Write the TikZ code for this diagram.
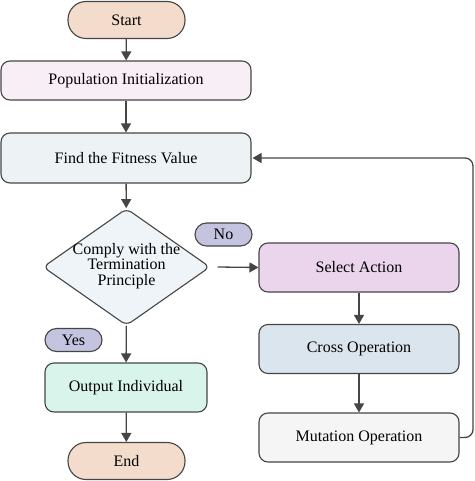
\documentclass[tikz,border=0pt]{standalone}
\usepackage{fontspec}
\setmainfont{Liberation Serif}
\usetikzlibrary{arrows.meta,shapes.geometric}
\definecolor{edge}{HTML}{454545}
\definecolor{peach}{HTML}{F3DCCB}
\definecolor{popc}{HTML}{F8EEF6}
\definecolor{fitc}{HTML}{EDF2F5}
\definecolor{diac}{HTML}{EEF4F7}
\definecolor{outc}{HTML}{D9F5EB}
\definecolor{selc}{HTML}{EAD5EC}
\definecolor{crosc}{HTML}{DAE5EE}
\definecolor{mutc}{HTML}{F5F5F5}
\definecolor{tagc}{HTML}{C4C4E1}
\tikzset{
  txt/.style={font=\rmfamily\fontsize{16}{15.5}\selectfont},
  base/.style={draw=edge, line width=1.1pt, inner sep=0pt, align=center, txt},
  term/.style={base, fill=peach, minimum width=117pt, minimum height=37pt, rounded corners=18pt},
  proc/.style={base, rounded corners=9pt, minimum height=49pt},
  tag/.style={base, fill=tagc, minimum width=57pt, minimum height=23pt, rounded corners=11.5pt},
  conn/.style={draw=edge, line width=1.3pt, -{Triangle[width=10pt,length=9pt]}},
}
\begin{document}
\begin{tikzpicture}[x=1pt,y=-1pt]
\useasboundingbox (0,0) rectangle (474,481);
\node[term] (start) at (126.5,20) {Start};
\node[proc, fill=popc, minimum width=250pt, minimum height=39pt] (pop) at (126,80.5) {Population Initialization};
\node[proc, fill=fitc, minimum width=250pt, minimum height=50pt] (fit) at (126,158) {Find the Fitness Value};
\node[base, diamond, fill=diac, minimum width=167pt, minimum height=117pt, aspect=1.43, rounded corners=6pt] (dia) at (126.5,267) {};
\node[txt, align=center] (diat) at (126.5,266) {Comply with the\\Termination\\Principle};
\node[tag] (no) at (223.5,234.5) {No};
\node[tag] (yes) at (73.5,340) {Yes};
\node[proc, fill=outc, minimum width=162pt] (out) at (126,387.5) {Output Individual};
\node[term] (end) at (126.5,461) {End};
\node[proc, fill=selc, minimum width=200pt] (sel) at (359,267.5) {Select Action};
\node[proc, fill=crosc, minimum width=200pt] (cro) at (359,349) {Cross Operation};
\node[proc, fill=mutc, minimum width=200pt] (mut) at (359,437.5) {Mutation Operation};
\coordinate (c1) at (473,437.5);
\coordinate (c2) at (473,158);
\draw[conn] (start) -- (pop);
\draw[conn] (pop) -- (fit);
\draw[conn] (fit) -- (dia);
\draw[conn] ([xshift=7pt]dia.east) -- (sel.west);
\draw[conn] (dia) -- (out);
\draw[conn] (out) -- (end);
\draw[conn] (sel) -- (cro);
\draw[conn] (cro) -- (mut);
\draw[conn, rounded corners=8pt] (mut.east) -- (c1) -- (c2) -- ([xshift=1pt]fit.east);
\end{tikzpicture}
\end{document}
